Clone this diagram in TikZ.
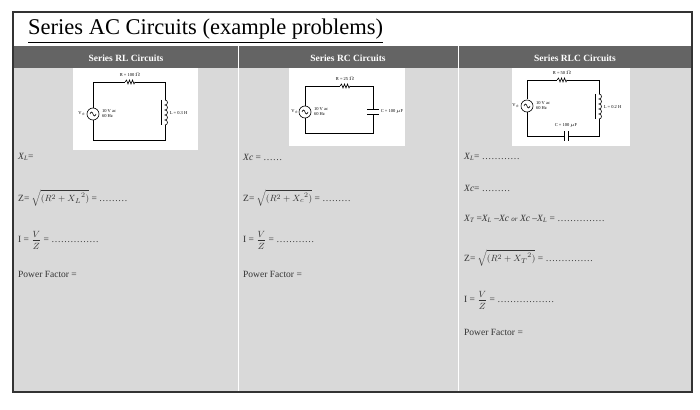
\documentclass[tikz,border=0pt]{standalone}
\usepackage{fontspec}
\setmainfont{Liberation Serif}
\usepackage{amsmath}
\begin{document}
\begin{tikzpicture}[x=1pt,y=-1pt,
  hdr/.style={font=\bfseries\fontsize{9.5}{10}\selectfont,text=white},
  txt/.style={anchor=west,font=\fontsize{9.5}{11}\selectfont,text=black!80,inner sep=0pt},
  wire/.style={line width=0.6pt},
  tiny/.style={font=\fontsize{4.5}{5}\selectfont,inner sep=0.5pt}]
\useasboundingbox (0,0) rectangle (700,409);
\fill[white] (0,0) rectangle (700,409);
\fill[gray!30] (13,46) rectangle (692,392);
\fill[gray!65!black!90] (13,46) rectangle (692,68);
\draw[white,line width=0.8pt] (238,46)--(238,392) (458,46)--(458,392);
\draw[black!80,line width=1.2pt] (13,12) rectangle (692,392);
\node[anchor=west,font=\fontsize{22.5}{24}\selectfont,inner sep=0pt] (title) at (28,31) {\underline{Series AC Circuits (example problems)}};
\node[hdr] (h1) at (126,58) {Series RL Circuits};
\node[hdr] (h2) at (348,58) {Series RC Circuits};
\node[hdr] (h3) at (575,58) {Series RLC Circuits};
% circuit boxes
\fill[white] (73,68) rectangle (198,150);
\fill[white] (289,68) rectangle (405,146);
\fill[white] (512,68) rectangle (630,146);
% RL
\begin{scope}[wire]
\draw (93,108)--(93,82)--(125,82) (135,82)--(165,82)--(165,100) (165,125)--(165,140)--(93,140)--(93,120);
\draw (125,82)--(126.5,80)--(128,84)--(129.5,80)--(131,84)--(132.5,80)--(134,84)--(135,82);
\draw (165,100) \foreach \i in {0,...,4}{ arc[start angle=-90,end angle=90,radius=2.5]};
\draw (161,100)--(161,125);
\draw (93,114) circle (6); \draw (90,114) sin (91.5,112) cos (93,114) sin (94.5,116) cos (96,114);
\node[tiny] (a1) at (130,75) {R = 100 $\Omega$};
\node[tiny] (a2) at (82,114) {V$_s$};
\node[tiny,align=left] (a3) at (109,114) {10 V ac\\60 Hz};
\node[tiny,anchor=west] (a4) at (169,113) {L = 0.3 H};
\end{scope}
% RC
\begin{scope}[wire]
\draw (305,106)--(305,86)--(340,86) (350,86)--(373,86)--(373,109) (373,114)--(373,133)--(305,133)--(305,118);
\draw (340,86)--(341.5,84)--(343,88)--(344.5,84)--(346,88)--(347.5,84)--(349,88)--(350,86);
\draw (367,109)--(379,109) (367,114)--(379,114);
\draw (305,112) circle (6); \draw (302,112) sin (303.5,110) cos (305,112) sin (306.5,114) cos (308,112);
\node[tiny] (b1) at (345,79) {R = 25 $\Omega$};
\node[tiny] (b2) at (295,112) {V$_s$};
\node[tiny,align=left] (b3) at (321,112) {10 V ac\\60 Hz};
\node[tiny,anchor=west] (b4) at (380,111) {C = 100 $\mu$F};
\end{scope}
% RLC
\begin{scope}[wire]
\draw (527,99)--(527,80)--(557,80) (567,80)--(599,80)--(599,94) (599,119)--(599,136)--(568,136) (564,136)--(527,136)--(527,112);
\draw (557,80)--(558.5,78)--(560,82)--(561.5,78)--(563,82)--(564.5,78)--(566,82)--(567,80);
\draw (599,94) \foreach \i in {0,...,4}{ arc[start angle=-90,end angle=90,radius=2.5]};
\draw (595,94)--(595,119);
\draw (564,131)--(564,141) (568,131)--(568,141);
\draw (527,106) circle (6); \draw (524,106) sin (525.5,104) cos (527,106) sin (528.5,108) cos (530,106);
\node[tiny] (c1) at (562,73) {R = 50 $\Omega$};
\node[tiny] (c2) at (516,106) {V$_s$};
\node[tiny,align=left] (c3) at (543,106) {10 V ac\\60 Hz};
\node[tiny,anchor=west] (c4) at (603,107) {L = 0.2 H};
\node[tiny] (c5) at (566,125) {C = 100 $\mu$F};
\end{scope}
% column 1
\node[txt] (t11) at (18,157) {\textit{X\textsubscript{L}}=};
\node[txt] (t12) at (18,198) {Z= $\sqrt{(R^2+{X_L}^2)}$ = \dots\dots\dots};
\node[txt] (t13) at (18,240) {I = $\dfrac{V}{Z}$ = \dots\dots\dots\dots\dots};
\node[txt] (t14) at (18,274) {Power Factor =};
% column 2
\node[txt] (t21) at (243,157) {\textit{Xc} = \dots\dots};
\node[txt] (t22) at (243,198) {Z= $\sqrt{(R^2+{X_c}^2)}$ = \dots\dots\dots};
\node[txt] (t23) at (243,240) {I = $\dfrac{V}{Z}$ = \dots\dots\dots\dots};
\node[txt] (t24) at (243,274) {Power Factor =};
% column 3
\node[txt] (t31) at (464,157) {\textit{X\textsubscript{L}}= \dots\dots\dots\dots};
\node[txt] (t32) at (464,188) {\textit{Xc}= \dots\dots\dots};
\node[txt] (t33) at (464,219) {\textit{X\textsubscript{T}} =\textit{X\textsubscript{L}} \textendash\textit{Xc \scriptsize or} \textit{Xc} \textendash\textit{X\textsubscript{L}} = \dots\dots\dots\dots\dots};
\node[txt] (t34) at (464,258) {Z= $\sqrt{(R^2+{X_T}^2)}$ = \dots\dots\dots\dots\dots};
\node[txt] (t35) at (464,300) {I = $\dfrac{V}{Z}$ = \dots\dots\dots\dots\dots\dots};
\node[txt] (t36) at (464,332) {Power Factor =};
\end{tikzpicture}
\end{document}
